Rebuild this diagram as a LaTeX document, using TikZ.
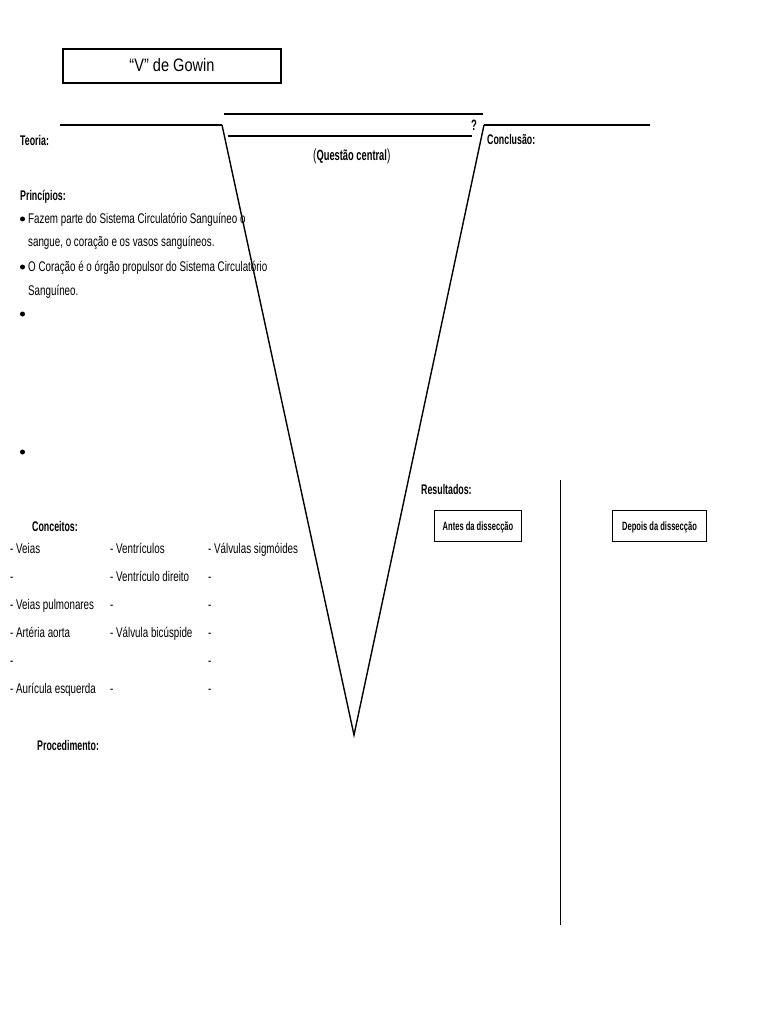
\documentclass[tikz,border=0pt]{standalone}
\usepackage{fontspec}
\setmainfont{Liberation Sans}[FakeStretch=0.70]
\newfontfamily\hdfont{Liberation Sans}[FakeStretch=0.63]
\newfontfamily\titlefont{Liberation Sans}[FakeStretch=0.81]
\begin{document}
\begin{tikzpicture}[x=1pt,y=-1pt,
  txt/.style={anchor=base west,inner sep=0pt,font=\fontsize{14}{16}\selectfont},
  hd/.style={txt,font=\hdfont\fontsize{14}{16}\selectfont\bfseries},
  smallhd/.style={inner sep=0pt,font=\hdfont\fontsize{12}{14}\selectfont\bfseries},
  bx/.style={draw,line width=1pt,inner sep=0pt},
  thick line/.style={line width=2.4pt},
  vline/.style={line width=1.4pt}]
\useasboundingbox (0,0) rectangle (768,1024);
% title
\node[draw,line width=1.6pt,minimum width=218pt,minimum height=34pt,inner sep=0pt,anchor=north west] (title) at (62,48) {};
\node[font=\titlefont\fontsize{18}{20}\selectfont,inner sep=0pt,anchor=base] (titletxt) at (172,71.5) {“V” de Gowin};
% V shape
\coordinate (tl0) at (60,125);
\coordinate (tl1) at (222,125);
\coordinate (bot) at (354,735);
\coordinate (tr1) at (484,125);
\coordinate (tr0) at (650,125);
\draw[thick line] (tl0) -- (tl1);
\draw[thick line] (tr1) -- (tr0);
\draw[vline] (tl1) -- (bot) -- (tr1);
\coordinate (q0) at (224,114);
\coordinate (q1) at (483,114);
\draw[thick line] (q0) -- (q1);
\coordinate (q2) at (228,136);
\coordinate (q3) at (472,136);
\draw[line width=1.2pt] (q2) -- (q3);
\node[hd,font=\hdfont\fontsize{15}{16}\selectfont\bfseries] (qmark) at (471,131) {?};
\node[hd] (qc) at (313,161) {\fontsize{16}{16}\selectfont\mdseries(\hdfont\fontsize{14.8}{16}\selectfont\bfseries Questão central\fontsize{16}{16}\selectfont\mdseries)};
\node[hd] (concl) at (487,145) {Conclusão:};
\node[hd] (teoria) at (20,146) {Teoria:};
\node[hd] (princ) at (20,201) {Princípios:};
\foreach \y/\n in {219/b1,267/b2,314/b3,452/b4}
  \fill (22.5,\y) circle (2.5pt) coordinate (\n);
\node[txt] (p1) at (28,223) {Fazem parte do Sistema Circulatório Sanguíneo o};
\node[txt] (p2) at (28,247) {sangue, o coração e os vasos sanguíneos.};
\node[txt] (p3) at (28,271) {O Coração é o órgão propulsor do Sistema Circulatório};
\node[txt] (p4) at (28,295) {Sanguíneo.};
% conceitos
\node[hd] (conc) at (32,531) {Conceitos:};
\node[txt] (c11) at (10,553) {- Veias};
\node[txt] (c12) at (110,553) {- Ventrículos};
\node[txt] (c13) at (208,553) {- Válvulas sigmóides};
\node[txt] (c21) at (10,581) {-};
\node[txt] (c22) at (110,581) {- Ventrículo direito};
\node[txt] (c23) at (208,581) {-};
\node[txt] (c31) at (10,609) {- Veias pulmonares};
\node[txt] (c32) at (110,609) {-};
\node[txt] (c33) at (208,609) {-};
\node[txt] (c41) at (10,637) {- Artéria aorta};
\node[txt] (c42) at (110,637) {- Válvula bicúspide};
\node[txt] (c43) at (208,637) {-};
\node[txt] (c51) at (10,665) {-};
\node[txt] (c53) at (208,665) {-};
\node[txt] (c61) at (10,693) {- Aurícula esquerda};
\node[txt] (c62) at (110,693) {-};
\node[txt] (c63) at (208,693) {-};
\node[hd] (proc) at (37,750) {Procedimento:};
% resultados
\node[hd] (res) at (421,494) {Resultados:};
\coordinate (vl0) at (560,480);
\coordinate (vl1) at (560,925);
\draw[line width=0.8pt] (vl0) -- (vl1);
\node[bx,minimum width=87pt,minimum height=31pt,anchor=north west] (antes) at (434,510) {};
\node[smallhd,anchor=base] at ([yshift=-4.5pt]antes.center) {Antes da dissecção};
\node[bx,minimum width=94pt,minimum height=31pt,anchor=north west] (depois) at (612,510) {};
\node[smallhd,anchor=base] at ([yshift=-4.5pt]depois.center) {Depois da dissecção};
\end{tikzpicture}
\end{document}
